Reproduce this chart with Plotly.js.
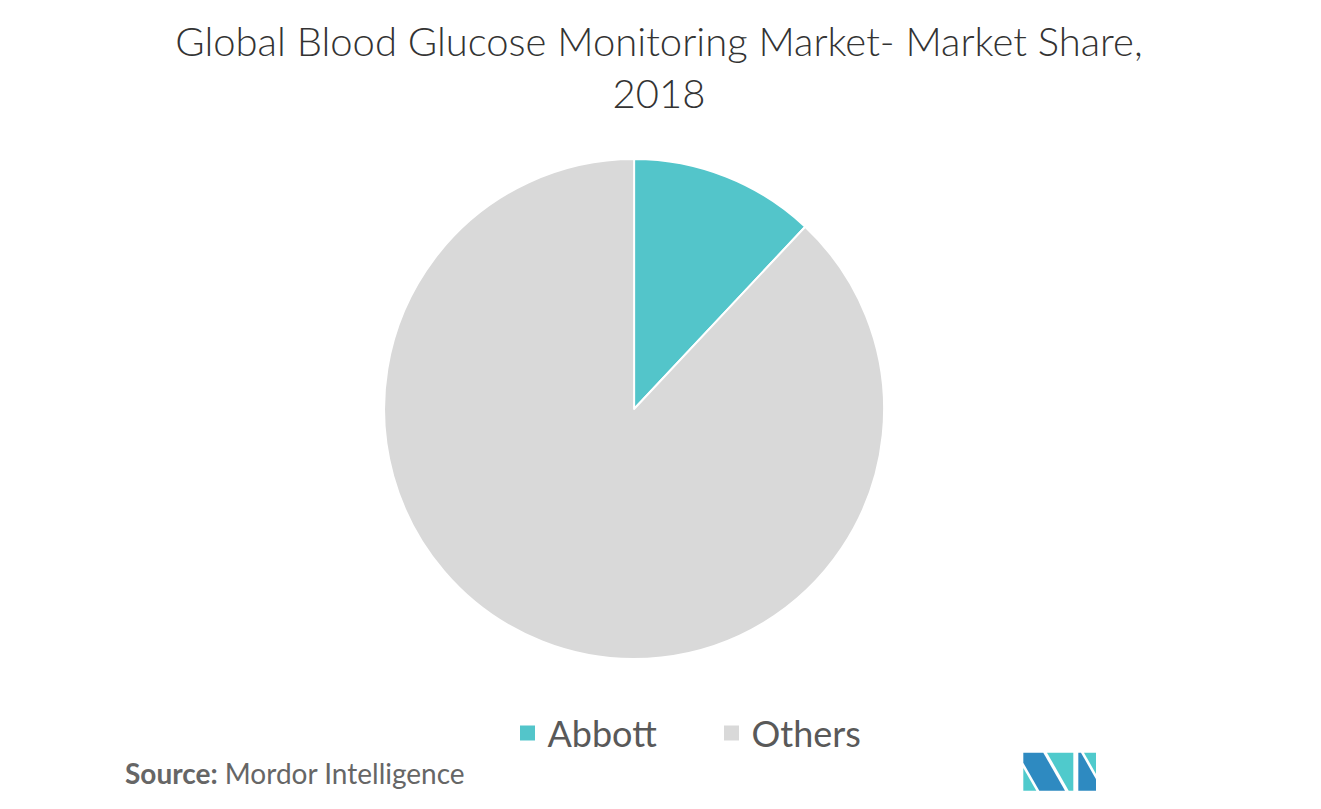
<!DOCTYPE html>
<html>
<head>
<meta charset="utf-8">
<script src="https://cdn.plot.ly/plotly-3.0.1.min.js"></script>
<style>
  html, body { margin: 0; padding: 0; background: #fff; }
  #chart { width: 1321px; height: 809px; position: relative; }
  #logo { position: absolute; left: 0; top: 0; pointer-events: none; }
</style>
</head>
<body>
<div id="chart"></div>
<svg id="logo" width="1321" height="809">
  <polygon points="1023.3,752.7 1043.3,752.7 1065,790.7 1039.3,790.7 1023.3,762.7" fill="#2E8AC1"/>
  <polygon points="1023.3,768 1023.3,790.7 1036.3,790.7" fill="#4FCACC"/>
  <polygon points="1047,752.7 1073.3,752.7 1073.3,790.7 1068.7,790.7" fill="#4FCACC"/>
  <polygon points="1078.3,752.7 1081,752.7 1096,779.3 1096,790.7 1078.3,790.7" fill="#2E8AC1"/>
  <polygon points="1084,752.7 1096,752.7 1096,774" fill="#4FCACC"/>
</svg>
<script>
const categories = ["Abbott", "Others"];
const shares = [12, 88];
const sliceColors = ["#53C5CA", "#D9D9D9"];
const titleText = "Global Blood Glucose Monitoring Market- Market Share,<br>2018";
const sourceLabel = "Source:";
const sourceName = "Mordor Intelligence";

const W = 1321, H = 809;
const plotTop = 159, plotBottom = 659;
const plotH = plotBottom - plotTop;

const data = [{
  type: "pie",
  labels: categories,
  values: shares,
  marker: { colors: sliceColors, line: { color: "#ffffff", width: 2 } },
  sort: false,
  direction: "clockwise",
  rotation: 0,
  textinfo: "none",
  hoverinfo: "label+percent",
  domain: { x: [0, 0.96], y: [0, 1] }
}];

const layout = {
  width: W,
  height: H,
  paper_bgcolor: "#ffffff",
  plot_bgcolor: "#ffffff",
  margin: { l: 0, r: 0, t: plotTop, b: H - plotBottom },
  font: { family: "Lato, 'Open Sans', sans-serif", color: "#333333" },
  title: {
    text: titleText,
    font: { family: "Lato, sans-serif", size: 40, color: "#333333", weight: 300 },
    x: 659 / W,
    xanchor: "center",
    y: 1 - 56 / H,
    yanchor: "middle"
  },
  showlegend: true,
  legend: {
    orientation: "h",
    x: 507.5 / W,
    xanchor: "left",
    y: (plotBottom - 733) / plotH,
    yanchor: "middle",
    entrywidth: 159,
    font: { family: "Lato, sans-serif", size: 36, color: "#595959" },
    itemclick: false,
    itemdoubleclick: false
  },
  annotations: [{
    text: "<b>" + sourceLabel + "</b> " + sourceName,
    xref: "paper", yref: "paper",
    x: 123 / W, xanchor: "left",
    y: (plotBottom - 773) / plotH, yanchor: "middle",
    showarrow: false,
    font: { family: "Lato, sans-serif", size: 28, color: "#666666" }
  }]
};

Plotly.newPlot("chart", data, layout, { displayModeBar: false, staticPlot: true }).then(function (gd) {
  // enlarge the legend swatches to match the reference size
  gd.querySelectorAll("path.legendpie").forEach(function (p) {
    p.setAttribute("d", "M8.5,8.5H-8.5V-8.5H8.5Z");
  });
});
</script>
</body>
</html>
